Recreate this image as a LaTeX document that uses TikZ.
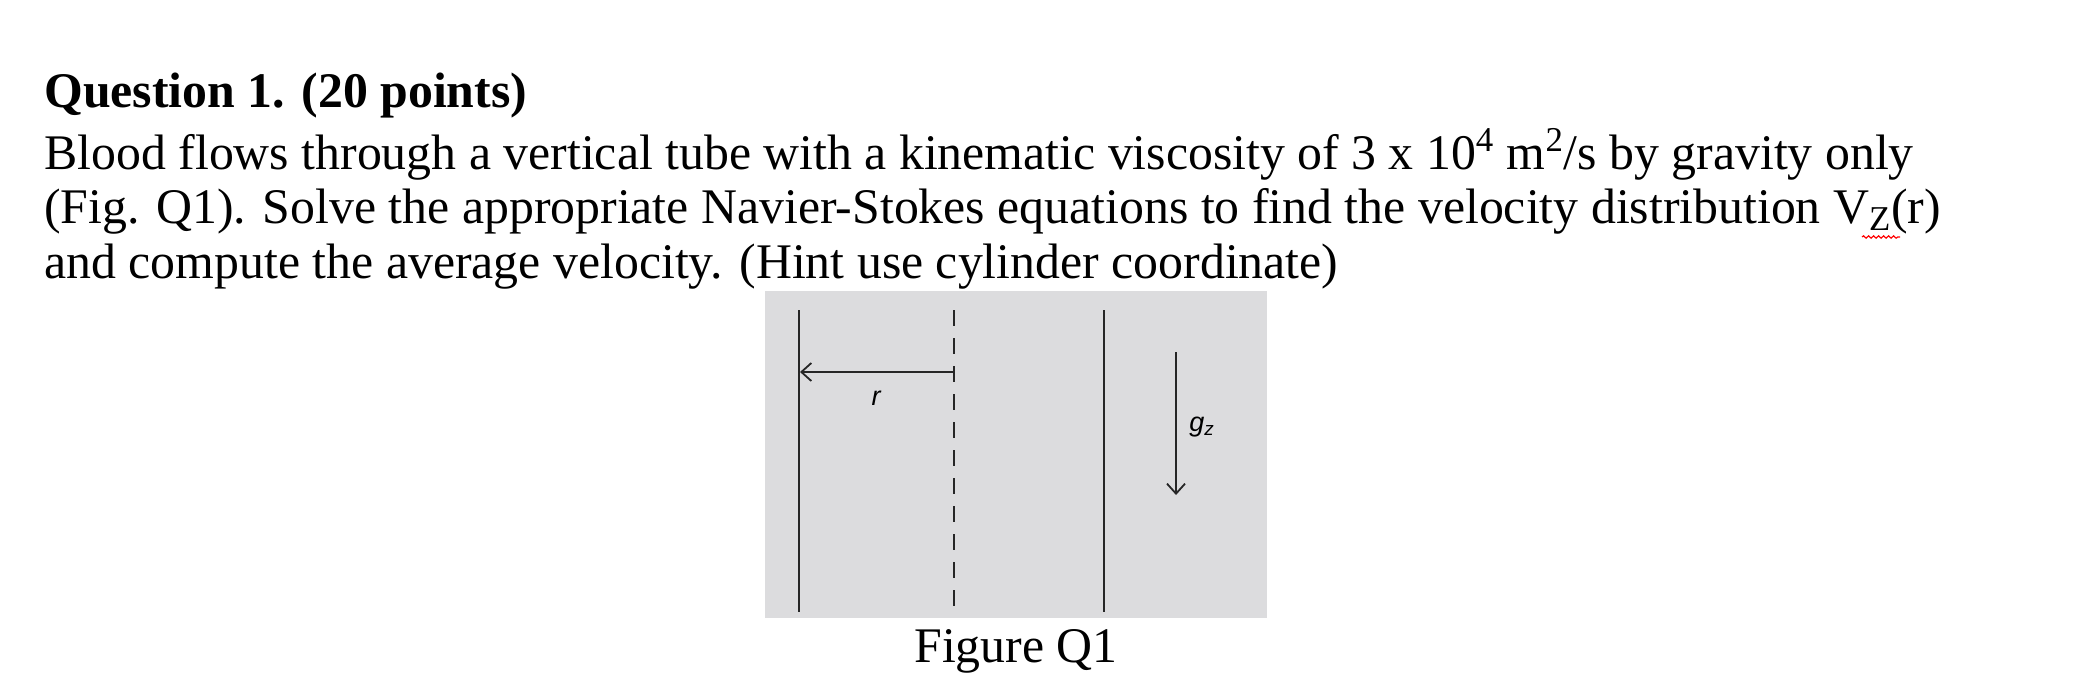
\documentclass[tikz,border=0pt]{standalone}
\usepackage{fontspec}
\setmainfont{Liberation Serif}
\setsansfont{Liberation Sans}
\usetikzlibrary{decorations.pathmorphing,arrows.meta}
\definecolor{boxg}{RGB}{220,220,222}
\begin{document}
\begin{tikzpicture}[x=0.5pt,y=-0.5pt,
  txt/.style={anchor=west,inner sep=0pt,font=\fontsize{24.9}{29}\selectfont},
  lbl/.style={inner sep=0pt,font=\sffamily\itshape\fontsize{13.5}{15}\selectfont},
  ln/.style={line width=0.9pt,draw=black!85}]
\useasboundingbox (0,0) rectangle (2096,686);
\node[txt,font=\bfseries\fontsize{24.9}{29}\selectfont] (q) at (44,96) {Question 1. (20 points)};
\node[txt] (l1) at (44,154) {Blood flows through a vertical tube with a kinematic viscosity of 3 x 10\textsuperscript{4} m\textsuperscript{2}/s by gravity only};
\node[txt] (l2) at (44,211) {(Fig. Q1). Solve the appropriate Navier-Stokes equations to find the velocity distribution V\textsubscript{Z}(r)};
\node[txt] (l3) at (44,267) {and compute the average velocity. (Hint use cylinder coordinate)};
\draw[red,line width=0.6pt,decorate,decoration={snake,amplitude=0.6pt,segment length=2.5pt}] (1862,237) -- (1900,237);
\fill[boxg] (765,291) rectangle (1267,618);
\draw[ln] (799,310) -- (799,612);
\draw[ln] (1104,310) -- (1104,612);
\draw[ln,dashed,dash pattern=on 8pt off 6pt] (954,310) -- (954,612);
\coordinate (rs) at (954,372);
\coordinate (re) at (800,372);
\draw[ln,-{Straight Barb[length=5pt,width=9pt]}] (rs) -- (re);
\node[lbl] (r) at (876,398) {r};
\coordinate (gs) at (1176,352);
\coordinate (ge) at (1176,495);
\draw[ln,-{Straight Barb[length=5pt,width=9pt]}] (gs) -- (ge);
\node[lbl] (g) at (1202,427) {g\textsubscript{z}};
\node[inner sep=0pt,font=\fontsize{24.9}{29}\selectfont] (fig) at (1016,651) {Figure Q1};
\end{tikzpicture}
\end{document}
